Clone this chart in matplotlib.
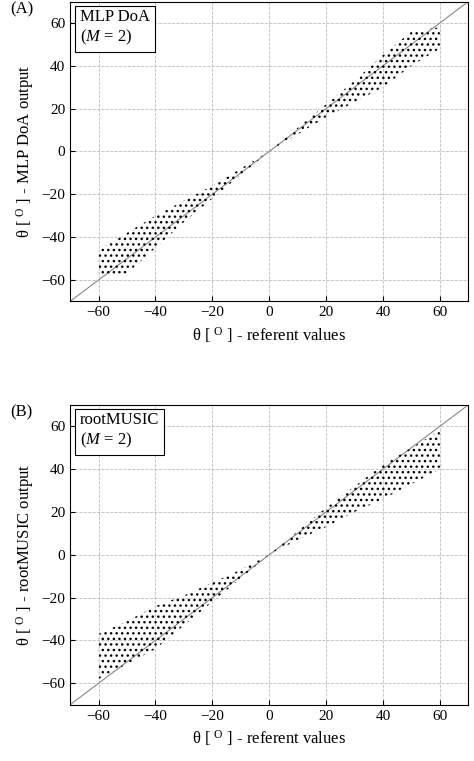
import matplotlib
matplotlib.use("Agg")
import matplotlib.pyplot as plt
import numpy as np

plt.rcParams['font.family'] = ['Liberation Serif', 'DejaVu Serif']
plt.rcParams['mathtext.fontset'] = 'custom'
plt.rcParams['mathtext.rm'] = 'Liberation Serif'
plt.rcParams['mathtext.it'] = 'Liberation Serif:italic'
plt.rcParams['hatch.linewidth'] = 1.0

# Envelope of the scatter clouds
x_ref = [-60, -50, -40, -30, -20, -10, 0, 10, 20, 30, 40, 50, 60]
mlp_low = [-58, -57, -45, -33, -22, -11, 0, 8, 16, 23, 30, 40, 48]
mlp_high = [-46, -38, -30, -23, -16, -8, 0, 11, 22, 33, 45, 56, 58]
music_low = [-58, -51, -44, -33, -22, -11, 0, 7, 13, 20, 26, 33, 40]
music_high = [-37, -31, -24, -19, -13, -7, 0, 11, 22, 32, 42, 50, 58]
ticks = [-60, -40, -20, 0, 20, 40, 60]

fig = plt.figure(figsize=(4.74, 7.61), dpi=100)
panels = [
    ([0.148, 0.604, 0.840, 0.394], mlp_low, mlp_high, "MLP DoA", "(A)",
     r"θ [ $^{\rm O}$ ] - MLP DoA output"),
    ([0.148, 0.074, 0.840, 0.394], music_low, music_high, "rootMUSIC", "(B)",
     r"θ [ $^{\rm O}$ ] - rootMUSIC output"),
]
for rect, lo, hi, name, tag, ylab in panels:
    ax = fig.add_axes(rect)
    ax.set_xlim(-70, 70)
    ax.set_ylim(-70, 70)
    ax.plot([-70, 70], [-70, 70], color='#888888', lw=0.8, zorder=1)
    ax.fill_between(x_ref, lo, hi, facecolor='none', edgecolor='black',
                    hatch='...', lw=0, zorder=2)
    ax.set_xticks(ticks)
    ax.set_yticks(ticks)
    ax.grid(True, ls='--', color='#bbbbbb', lw=0.6)
    ax.set_axisbelow(True)
    ax.tick_params(direction='in', labelsize=11, top=False, right=False)
    ax.set_xlabel(r"θ [ $^{\rm O}$ ] - referent values", fontsize=12)
    ax.set_ylabel(ylab, fontsize=12)
    ax.text(-0.15, 1.0, tag, transform=ax.transAxes, fontsize=12, va='top')
    ax.text(0.025, 0.975, name + "\n(" + r"$\it{M}$" + " = 2)",
            transform=ax.transAxes, fontsize=12, va='top', ha='left',
            bbox=dict(boxstyle='square,pad=0.3', fc='white', ec='black', lw=0.8))

fig.savefig("out.png", dpi=100)
